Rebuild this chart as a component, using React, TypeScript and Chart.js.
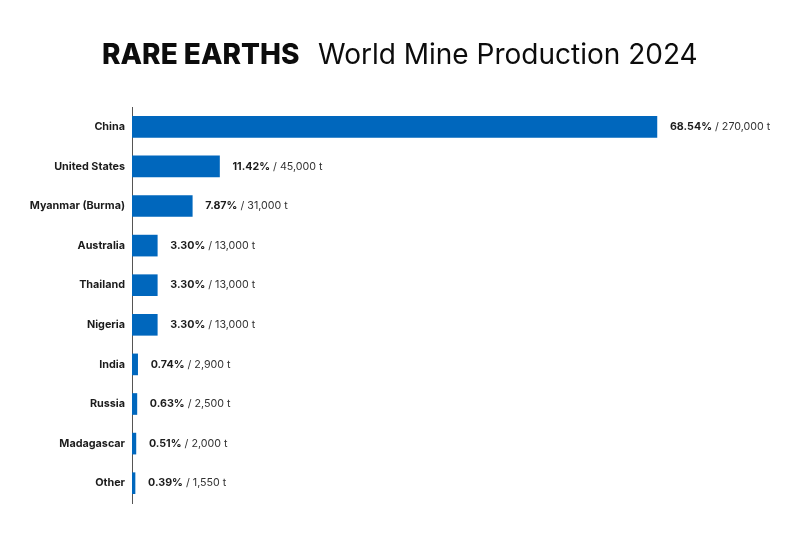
import { useEffect, useRef } from "react"
import { Chart, registerables } from "chart.js"

Chart.register(...registerables)

const countries = [
  "China",
  "United States",
  "Myanmar (Burma)",
  "Australia",
  "Thailand",
  "Nigeria",
  "India",
  "Russia",
  "Madagascar",
  "Other",
]
const tonnes = [270000, 45000, 31000, 13000, 13000, 13000, 2900, 2500, 2000, 1550]
const shares = ["68.54", "11.42", "7.87", "3.30", "3.30", "3.30", "0.74", "0.63", "0.51", "0.39"]

const FONT = "Inter, sans-serif"
const INK = "#1c1c1c"

// Title has two weights, so Chart's own title option can't do it
const titlePlugin = {
  id: "mixedTitle",
  afterDraw(chart: Chart) {
    const { ctx } = chart
    ctx.save()
    ctx.fillStyle = "#0c0c0c"
    ctx.textBaseline = "alphabetic"
    ctx.textAlign = "left"
    ctx.font = `800 28px ${FONT}`
    ctx.fillText("RARE EARTHS", 102, 64)
    ctx.font = `400 28px ${FONT}`
    ctx.fillText("World Mine Production 2024", 318, 64)
    ctx.restore()
  },
}

// "68.54% / 270,000 t" next to each bar
const valueLabels = {
  id: "valueLabels",
  afterDatasetsDraw(chart: Chart) {
    const { ctx } = chart
    const bars = chart.getDatasetMeta(0).data
    ctx.save()
    ctx.textBaseline = "middle"
    ctx.textAlign = "left"
    bars.forEach((bar, i) => {
      const bold = `${shares[i]}%`
      const rest = ` / ${tonnes[i].toLocaleString("en-US")} t`
      const x = bar.x + 13
      ctx.font = `700 10.7px ${FONT}`
      ctx.fillStyle = INK
      ctx.fillText(bold, x, bar.y)
      const w = ctx.measureText(bold).width
      ctx.font = `400 10.7px ${FONT}`
      ctx.fillStyle = "#333333"
      ctx.fillText(rest, x + w, bar.y)
    })
    ctx.restore()
  },
}

export default function App() {
  const chartRef = useRef<HTMLCanvasElement>(null)

  useEffect(() => {
    if (!chartRef.current) return

    const chart = new Chart(chartRef.current, {
      type: "bar",
      data: {
        labels: countries,
        datasets: [
          {
            data: tonnes,
            backgroundColor: "#0067bd",
            barThickness: 21,
          },
        ],
      },
      options: {
        indexAxis: "y",
        responsive: false,
        animation: false,
        layout: { padding: { top: 107, bottom: 31, left: 0, right: 7 } },
        plugins: {
          legend: { display: false },
          tooltip: { enabled: false },
        },
        scales: {
          x: { display: false, min: 0, max: 340000 },
          y: {
            afterFit: (scale) => {
              scale.width = 132
            },
            grid: { display: false, drawTicks: false },
            border: { color: "#555555", width: 1 },
            ticks: {
              color: INK,
              padding: 7,
              font: { family: FONT, size: 10.8, weight: 700 },
            },
          },
        },
      },
      plugins: [titlePlugin, valueLabels],
    })

    return () => chart.destroy()
  }, [])

  return (
    <div style={{ position: "absolute", left: 0, top: 0, width: 800, height: 534, background: "#fff" }}>
      <canvas ref={chartRef} width={800} height={534} style={{ display: "block" }} />
    </div>
  )
}
